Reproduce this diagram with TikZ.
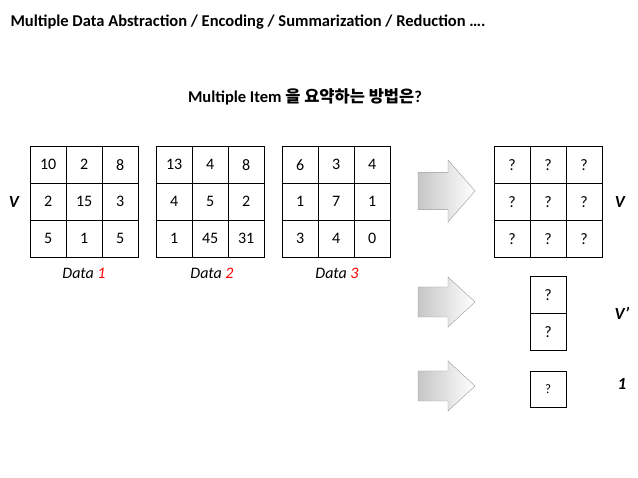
\documentclass[tikz,border=0pt]{standalone}
\usepackage{fontspec}
\setmainfont{Carlito}
\newfontfamily\kr{Noto Sans CJK KR}
\begin{document}
\begin{tikzpicture}[x=1pt,y=-1pt,
  cell/.style={draw,minimum width=36pt,minimum height=37pt,inner sep=0pt,font=\fontsize{16}{18}\selectfont,anchor=north west},
  lbl/.style={font=\fontsize{16}{18}\selectfont\itshape},
  side/.style={font=\fontsize{17}{19}\selectfont\bfseries\itshape},
  barrow/.style={draw=gray!80,left color=gray!45,right color=white,shading angle=90}]
\useasboundingbox (0,0) rectangle (638,478);
\node[anchor=west,font=\fontsize{16.5}{19}\selectfont\bfseries] (title) at (7,22) {Multiple Data Abstraction / Encoding / Summarization / Reduction ….};
\node[font=\fontsize{16.5}{19}\selectfont\bfseries] (sub) at (305,97) {Multiple Item {\kr 을 요약하는 방법은}?};
\def\grid#1#2#3{%
  \foreach \r [count=\i from 0] in {#3}{%
    \foreach \v [count=\j from 0] in \r {%
      \node[cell] (#1-\i-\j) at (#2+36*\j,146+37*\i) {\v};}}}
\grid{a}{30}{{10,2,8},{2,15,3},{5,1,5}}
\grid{b}{156}{{13,4,8},{4,5,2},{1,45,31}}
\grid{c}{282}{{6,3,4},{1,7,1},{3,4,0}}
\grid{d}{494}{{?,?,?},{?,?,?},{?,?,?}}
\node[cell] (e0) at (530,276) {?};
\node[cell] (e1) at (530,313) {?};
\node[cell,minimum height=36pt,font=\fontsize{13}{15}\selectfont] (f) at (530,371) {?};
\node[side] (vl) at (14,202) {V};
\node[side] (vr) at (620,202) {V};
\node[side] (vp) at (622,313) {V’};
\node[side] (one) at (622,384) {1};
\node[lbl] (d1) at (84,273) {Data {\color{red}1}};
\node[lbl] (d2) at (212,273) {Data {\color{red}2}};
\node[lbl] (d3) at (337,273) {Data {\color{red}3}};
\foreach \yc/\h in {191/31, 302/25, 386/25}{
  \path[barrow] (418,\yc-0.6*\h) -- (448,\yc-0.6*\h) -- (448,\yc-\h) -- (475,\yc) -- (448,\yc+\h) -- (448,\yc+0.6*\h) -- (418,\yc+0.6*\h) -- cycle;}
\end{tikzpicture}
\end{document}
